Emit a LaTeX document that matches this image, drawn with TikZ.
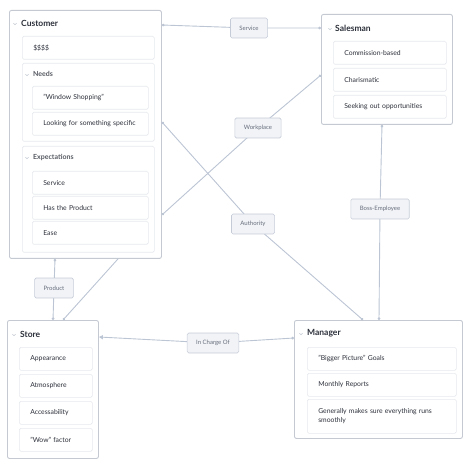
\documentclass[tikz,border=0pt]{standalone}
\usepackage{fontspec}
\setmainfont{Lato}
\definecolor{framegray}{RGB}{196, 201, 210}
\definecolor{itemgray}{RGB}{230, 233, 238}
\definecolor{linkblue}{RGB}{188, 197, 212}
\definecolor{tagfill}{RGB}{241, 243, 247}
\definecolor{tagline}{RGB}{198, 204, 215}
\definecolor{inkdark}{RGB}{44, 48, 58}
\definecolor{inkgray}{RGB}{104, 110, 124}
\usetikzlibrary{arrows.meta, positioning, calc}

\begin{document}
\begin{tikzpicture}[x=1pt, y=-1pt,
  frame/.style={draw=framegray, fill=white, rounded corners=2pt, line width=0.9pt, inner sep=0pt, anchor=north west},
  group/.style={draw=itemgray, rounded corners=1.5pt, line width=0.6pt, inner sep=0pt, anchor=north west},
  item/.style={draw=itemgray, fill=white, rounded corners=1.5pt, line width=0.6pt, anchor=north west, align=left,
    text width=#1, inner xsep=11pt, inner ysep=0pt, minimum height=23pt, font=\fontsize{6.8}{8.6}\selectfont, text=inkdark},
  title/.style={anchor=west, inner sep=0pt, font=\fontsize{8.5}{10}\selectfont\bfseries, text=inkdark},
  subtitle/.style={anchor=west, inner sep=0pt, font=\fontsize{7}{9}\selectfont\bfseries, text=inkdark!80},
  tag/.style={draw=tagline, fill=tagfill, rounded corners=1.5pt, line width=0.6pt, inner xsep=9pt,
    minimum height=20pt, font=\fontsize{6}{7}\selectfont, text=inkgray},
  link/.style={draw=linkblue, line width=0.9pt},
  dot/.tip={Circle[length=2.6pt, fill=linkblue!80!black!60]},
  chevron/.pic={\draw[framegray, line width=0.5pt] (-1.6,-0.8) -- (0,0.8) -- (1.6,-0.8);}
]
  \useasboundingbox (0,0) rectangle (474,465);

  % Customer
  \node[frame, minimum width=152pt, minimum height=248pt] (customer) at (9,10) {};
  \pic at (15,24) {chevron};
  \node[title] (custtitle) at (21,23) {Customer};
  \node[item=110pt] (money) at (22,36) {\$\$\$\$};
  \node[group, minimum width=132pt, minimum height=78pt] (needs) at (22,63) {};
  \pic at (27,75) {chevron};
  \node[subtitle] (needstitle) at (33,74) {Needs};
  \node[item=94pt] (window) at (32,86) {"Window Shopping"};
  \node[item=94pt] (looking) at (32,112) {Looking for something specific};
  \node[group, minimum width=132pt, minimum height=106pt] (expect) at (22,146) {};
  \pic at (27,158) {chevron};
  \node[subtitle] (expecttitle) at (33,157) {Expectations};
  \node[item=94pt] (service) at (32,171) {Service};
  \node[item=94pt] (hasprod) at (32,196) {Has the Product};
  \node[item=94pt] (ease) at (32,221) {Ease};

  % Salesman
  \node[frame, minimum width=131pt, minimum height=110pt] (salesman) at (321,14) {};
  \pic at (330,29) {chevron};
  \node[title] (saletitle) at (335,28) {Salesman};
  \node[item=91pt] (commission) at (333,41) {Commission-based};
  \node[item=91pt] (charis) at (333,68) {Charismatic};
  \node[item=91pt] (seeking) at (333,95) {Seeking out opportunities};

  % Store
  \node[frame, minimum width=91pt, minimum height=138pt] (store) at (7,320) {};
  \pic at (14,335) {chevron};
  \node[title] (storetitle) at (20,334) {Store};
  \node[item=51pt] (appear) at (19,347) {Appearance};
  \node[item=51pt] (atmos) at (19,374) {Atmosphere};
  \node[item=51pt] (access) at (19,401) {Accessability};
  \node[item=51pt] (wow) at (19,428) {"Wow" factor};

  % Manager
  \node[frame, minimum width=168pt, minimum height=118pt] (manager) at (294,320) {};
  \pic at (301,334) {chevron};
  \node[title] (mgrtitle) at (307,333) {Manager};
  \node[item=127pt] (bigger) at (307,347) {"Bigger Picture" Goals};
  \node[item=127pt] (monthly) at (307,373) {Monthly Reports};
  \node[item=127pt, minimum height=34pt] (smooth) at (307,399) {Generally makes sure everything runs\\smoothly};

  % ports on the frames
  \coordinate (cu-svc) at ($(customer.north east)+(0,15)$);
  \coordinate (sa-svc) at (salesman.west |- saletitle);
  \coordinate (cu-work) at ($(customer.north east)+(0,205)$);
  \coordinate (sa-work) at ($(salesman.north west)+(0,61)$);
  \coordinate (cu-auth) at ($(customer.north east)+(0,112)$);
  \coordinate (ma-auth) at ($(manager.north west)+(69,0)$);
  \coordinate (sa-boss) at ($(salesman.south west)+(61,0)$);
  \coordinate (ma-boss) at ($(manager.north west)+(85,0)$);
  \coordinate (ma-charge) at ($(manager.north west)+(0,18)$);
  \coordinate (st-charge) at ($(store.north east)+(0,17)$);
  \coordinate (cu-prod) at ($(customer.south west)+(46,0)$);
  \coordinate (st-prod) at ($(store.north west)+(46,0)$);
  \coordinate (cu-diag) at ($(customer.south west)+(109,0)$);
  \coordinate (st-diag) at ($(store.north west)+(56,0)$);

  % tag centres
  \coordinate (svc-c) at (249,28);
  \coordinate (work-c) at (258,128);
  \coordinate (auth-c) at (253,224);
  \coordinate (boss-c) at (380,209);
  \coordinate (charge-c) at (213,343);
  \coordinate (prod-c) at (54,288);

  % links
  \draw[link, dot-dot] (cu-svc) -- (svc-c) -- (sa-svc);
  \draw[link, dot-dot] (cu-work) -- (work-c) -- (sa-work);
  \draw[link, dot-dot] (cu-auth) -- (auth-c) -- (ma-auth);
  \draw[link, dot-dot] (sa-boss) -- (boss-c) -- (ma-boss);
  \draw[link, {Triangle[length=4pt, width=4pt]}-dot] (st-charge) -- (charge-c) -- (ma-charge);
  \draw[link, dot-dot] (cu-prod) -- (prod-c) -- (st-prod);
  \draw[link, -dot] (cu-diag) -- (st-diag);

  % relation tags
  \node[tag] (svc) at (svc-c) {Service};
  \node[tag] (work) at (work-c) {Workplace};
  \node[tag] (auth) at (auth-c) {Authority};
  \node[tag] (boss) at (boss-c) {Boss-Employee};
  \node[tag] (charge) at (charge-c) {In Charge Of};
  \node[tag] (prod) at (prod-c) {Product};
\end{tikzpicture}
\end{document}
